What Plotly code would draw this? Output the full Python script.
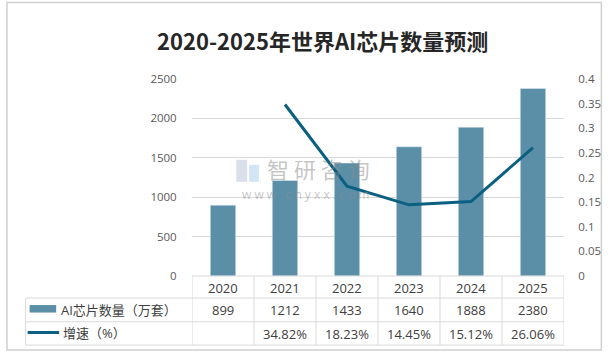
import plotly.graph_objects as go

years = ["2020", "2021", "2022", "2023", "2024", "2025"]
chips = [899, 1212, 1433, 1640, 1888, 2380]
growth = [None, 0.3482, 0.1823, 0.1445, 0.1512, 0.2606]
growth_labels = ["", "34.82%", "18.23%", "14.45%", "15.12%", "26.06%"]
bar_name = "AI芯片数量（万套）"
line_name = "增速（%）"
title = "2020-2025年世界AI芯片数量预测"

W, H = 613, 355
L, R, T, B = 192, 570, 79.3, 276
pw, ph = R - L, B - T

def px(x):
    return (x - L) / pw

def py(y):
    return (B - y) / ph

BAR_C = "#5b8fa8"
LINE_C = "#0b5f80"
GRID = "#d9d9d9"
TXT = "#404040"
AX = "#595959"
FONT = "Open Sans, Noto Sans CJK SC, sans-serif"

fig = go.Figure()
fig.add_trace(go.Bar(x=years, y=chips, name=bar_name, marker_color=BAR_C,
                     width=0.41, yaxis="y"))
fig.add_trace(go.Scatter(x=years, y=growth, name=line_name, mode="lines",
                         line=dict(color=LINE_C, width=3), yaxis="y2",
                         connectgaps=False))

shapes = []
annotations = []

# outer border
shapes.append(dict(type="rect", xref="paper", yref="paper",
                   x0=px(4), x1=px(608), y0=py(350), y1=py(3),
                   line=dict(color="#d0d0d0", width=1.5), layer="below"))

# table horizontal lines
rows_y = [298, 321.7, 345]
shapes.append(dict(type="line", xref="paper", yref="paper", x0=0, x1=1,
                   y0=0, y1=0, line=dict(color=GRID, width=1)))
for yy in rows_y:
    shapes.append(dict(type="line", xref="paper", yref="paper", x0=px(23), x1=1,
                       y0=py(yy), y1=py(yy), line=dict(color=GRID, width=1)))
# table vertical lines
for i in range(len(years) + 1):
    shapes.append(dict(type="line", xref="x", yref="paper", x0=i - 0.5, x1=i - 0.5,
                       y0=0, y1=py(345), line=dict(color=GRID, width=1)))
shapes.append(dict(type="line", xref="paper", yref="paper", x0=px(23), x1=px(23),
                   y0=py(298), y1=py(345), line=dict(color=GRID, width=1)))

# legend swatches
shapes.append(dict(type="rect", xref="paper", yref="paper", x0=px(27), x1=px(54),
                   y0=py(312.5), y1=py(305), fillcolor=BAR_C, line=dict(width=0)))
shapes.append(dict(type="line", xref="paper", yref="paper", x0=px(25), x1=px(57),
                   y0=py(332.5), y1=py(332.5), line=dict(color=LINE_C, width=3)))

annotations.append(dict(text=bar_name, xref="paper", yref="paper", x=px(57), y=py(310),
                        xanchor="left", yanchor="middle", showarrow=False,
                        font=dict(family=FONT, size=13, color=TXT)))
annotations.append(dict(text=line_name, xref="paper", yref="paper", x=px(59), y=py(332.5),
                        xanchor="left", yanchor="middle", showarrow=False,
                        font=dict(family=FONT, size=13, color=TXT)))

for i, yr in enumerate(years):
    annotations.append(dict(text=yr, xref="x", yref="paper", x=i, y=py(287.5),
                            xanchor="center", yanchor="middle", showarrow=False,
                            font=dict(family=FONT, size=13, color=TXT)))
    annotations.append(dict(text=str(chips[i]), xref="x", yref="paper", x=i, y=py(310),
                            xanchor="center", yanchor="middle", showarrow=False,
                            font=dict(family=FONT, size=13, color=TXT)))
    if growth_labels[i]:
        annotations.append(dict(text=growth_labels[i], xref="x", yref="paper", x=i,
                                y=py(333.5), xanchor="center", yanchor="middle",
                                showarrow=False,
                                font=dict(family=FONT, size=13, color=TXT)))

# title
annotations.append(dict(text="<b>" + title + "</b>", xref="paper", yref="paper",
                        x=px(325), y=py(40), xanchor="center", yanchor="middle",
                        showarrow=False,
                        font=dict(family="Noto Sans CJK SC, sans-serif", size=22,
                                  color="#262626")))

# watermark
annotations.append(dict(text="智 研 咨 询", xref="paper", yref="paper", x=px(321), y=py(168),
                        xanchor="center", yanchor="middle", showarrow=False,
                        font=dict(family="Noto Sans CJK SC, sans-serif", size=22,
                                  color="rgba(140,140,140,0.5)")))
annotations.append(dict(text="w w w . c h y x x . c o m", xref="paper", yref="paper",
                        x=px(307), y=py(194.5), xanchor="center", yanchor="middle",
                        showarrow=False,
                        font=dict(family=FONT, size=12, color="rgba(140,140,140,0.5)")))
shapes.append(dict(type="rect", xref="paper", yref="paper", x0=px(237), x1=px(248),
                   y0=py(182), y1=py(160), fillcolor="rgba(170,185,210,0.45)",
                   line=dict(width=0)))
shapes.append(dict(type="rect", xref="paper", yref="paper", x0=px(250), x1=px(260),
                   y0=py(182), y1=py(165), fillcolor="rgba(150,200,230,0.45)",
                   line=dict(width=0)))

fig.update_layout(
    width=W, height=H,
    margin=dict(l=L, r=W - R, t=T, b=H - B, pad=0),
    paper_bgcolor="white", plot_bgcolor="white",
    showlegend=False,
    bargap=0.59,
    xaxis=dict(type="category", showticklabels=False, showgrid=False, zeroline=False,
               showline=False, ticks="", range=[-0.5, 5.5]),
    yaxis=dict(range=[0, 2500], dtick=500, showgrid=True, gridcolor=GRID, gridwidth=1,
               zeroline=False, showline=False, ticks="outside", ticklen=12,
               tickcolor="rgba(0,0,0,0)",
               tickfont=dict(family=FONT, size=11.5, color=AX)),
    yaxis2=dict(range=[0, 0.4], dtick=0.05, overlaying="y", side="right",
                showgrid=False, zeroline=False, showline=False, ticks="outside",
                ticklen=11, tickcolor="rgba(0,0,0,0)", tickformat="~g",
                tickfont=dict(family=FONT, size=11.5, color=AX)),
    shapes=shapes, annotations=annotations,
)

fig.write_html("out.html", config={"displayModeBar": False},
               post_script="document.body.style.margin='0';document.body.style.padding='0';")
